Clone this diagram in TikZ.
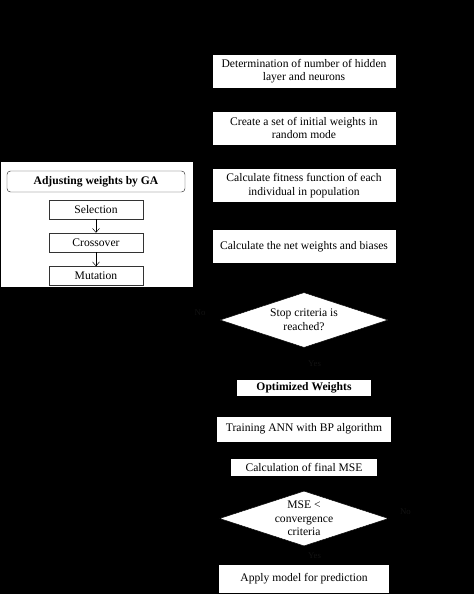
\documentclass[tikz,border=0pt]{standalone}
\usepackage{fontspec}
\setmainfont{Liberation Serif}
\usetikzlibrary{shapes.geometric, positioning, arrows.meta}

\begin{document}
\begin{tikzpicture}[node distance=1.71cm, on grid, auto,
    font=\fontsize{9.9}{11.6}\selectfont,
    box/.style={draw, fill=white, align=center, minimum width=5.52cm, minimum height=1.02cm, inner sep=1pt},
    decision/.style={diamond, draw, fill=white, align=center, minimum width=5.04cm, minimum height=1.65cm, inner sep=0pt, aspect=3},
    titlebox/.style={draw=black!80, fill=white, rounded corners=3pt, minimum width=5.34cm, minimum height=0.63cm, inner sep=1pt},
    opbox/.style={draw=black!80, fill=white, minimum width=2.82cm, minimum height=0.57cm, inner sep=1pt},
    flow/.style={draw=black, -{Stealth[length=5pt]}},
    ga flow/.style={draw=black, thin, -{Straight Barb[length=3.5pt, width=6pt]}},
    lbl/.style={font=\fontsize{7.5}{8}\selectfont, text=black!93}]
    \fill[black] (0,0) rectangle (14.22,-17.82);
    \useasboundingbox (0,0) rectangle (14.22,-17.82);

    % main column
    \node[box] (b1) at (9.12,-2.13) {Determination of number of hidden\\layer and neurons};
    \node[box] (b2) [below=of b1] {Create a set of initial weights in\\random mode};
    \node[box] (b3) [below=1.725cm of b2] {Calculate fitness function of each\\individual in population};
    \node[box] (b4) [below=1.83cm of b3] {Calculate the net weights and biases};
    \node[decision] (d1) [below=2.205cm of b4] {Stop criteria is\\reached?};
    \node[box, minimum width=4.05cm, minimum height=0.51cm] (ow) [below=2.025cm of d1] {\textbf{Optimized Weights}};
    \node[box, minimum width=5.25cm, minimum height=0.78cm] (train) [below=1.245cm of ow] {Training ANN with BP algorithm};
    \node[box, minimum width=4.41cm, minimum height=0.54cm] (mse) [below=1.14cm of train] {Calculation of final MSE};
    \node[decision, minimum width=5.07cm] (d2) [below=1.545cm of mse] {MSE <\\convergence\\criteria};
    \node[box, minimum width=5.13cm, minimum height=0.87cm] (apply) [below=1.815cm of d2] {Apply model for prediction};

    % GA panel
    \node[draw, fill=white, minimum width=5.79cm, minimum height=3.78cm, inner sep=0pt] (panel) at (2.895,-6.72) {};
    \node[titlebox] (ga) at (2.88,-5.445) {\textbf{Adjusting weights by GA}};
    \node[opbox] (sel) [below=0.84cm of ga] {Selection};
    \node[opbox] (cross) [below=0.99cm of sel] {Crossover};
    \node[opbox] (mut) [below=1.005cm of cross] {Mutation};

    \path[ga flow]
        (sel) edge (cross)
        (cross) edge (mut);

    \path[flow]
        (b1) edge (b2)
        (b2) edge (b3)
        (b3) edge (b4)
        (b4) edge (d1)
        (d1) edge node[lbl] {Yes} (ow)
        (ow) edge (train)
        (train) edge (mse)
        (mse) edge (d2)
        (d2) edge node[lbl] {Yes} (apply);

    \draw[flow] (d1.west) -| node[lbl, pos=0.08, above] {No} (panel.south);
    \draw[flow] (panel.east |- b3.west) -- (b3.west);
    \draw[flow] (d2.east) -- node[lbl, above] {No} ++(1.0,0) |- (train.east);

\end{tikzpicture}
\end{document}
